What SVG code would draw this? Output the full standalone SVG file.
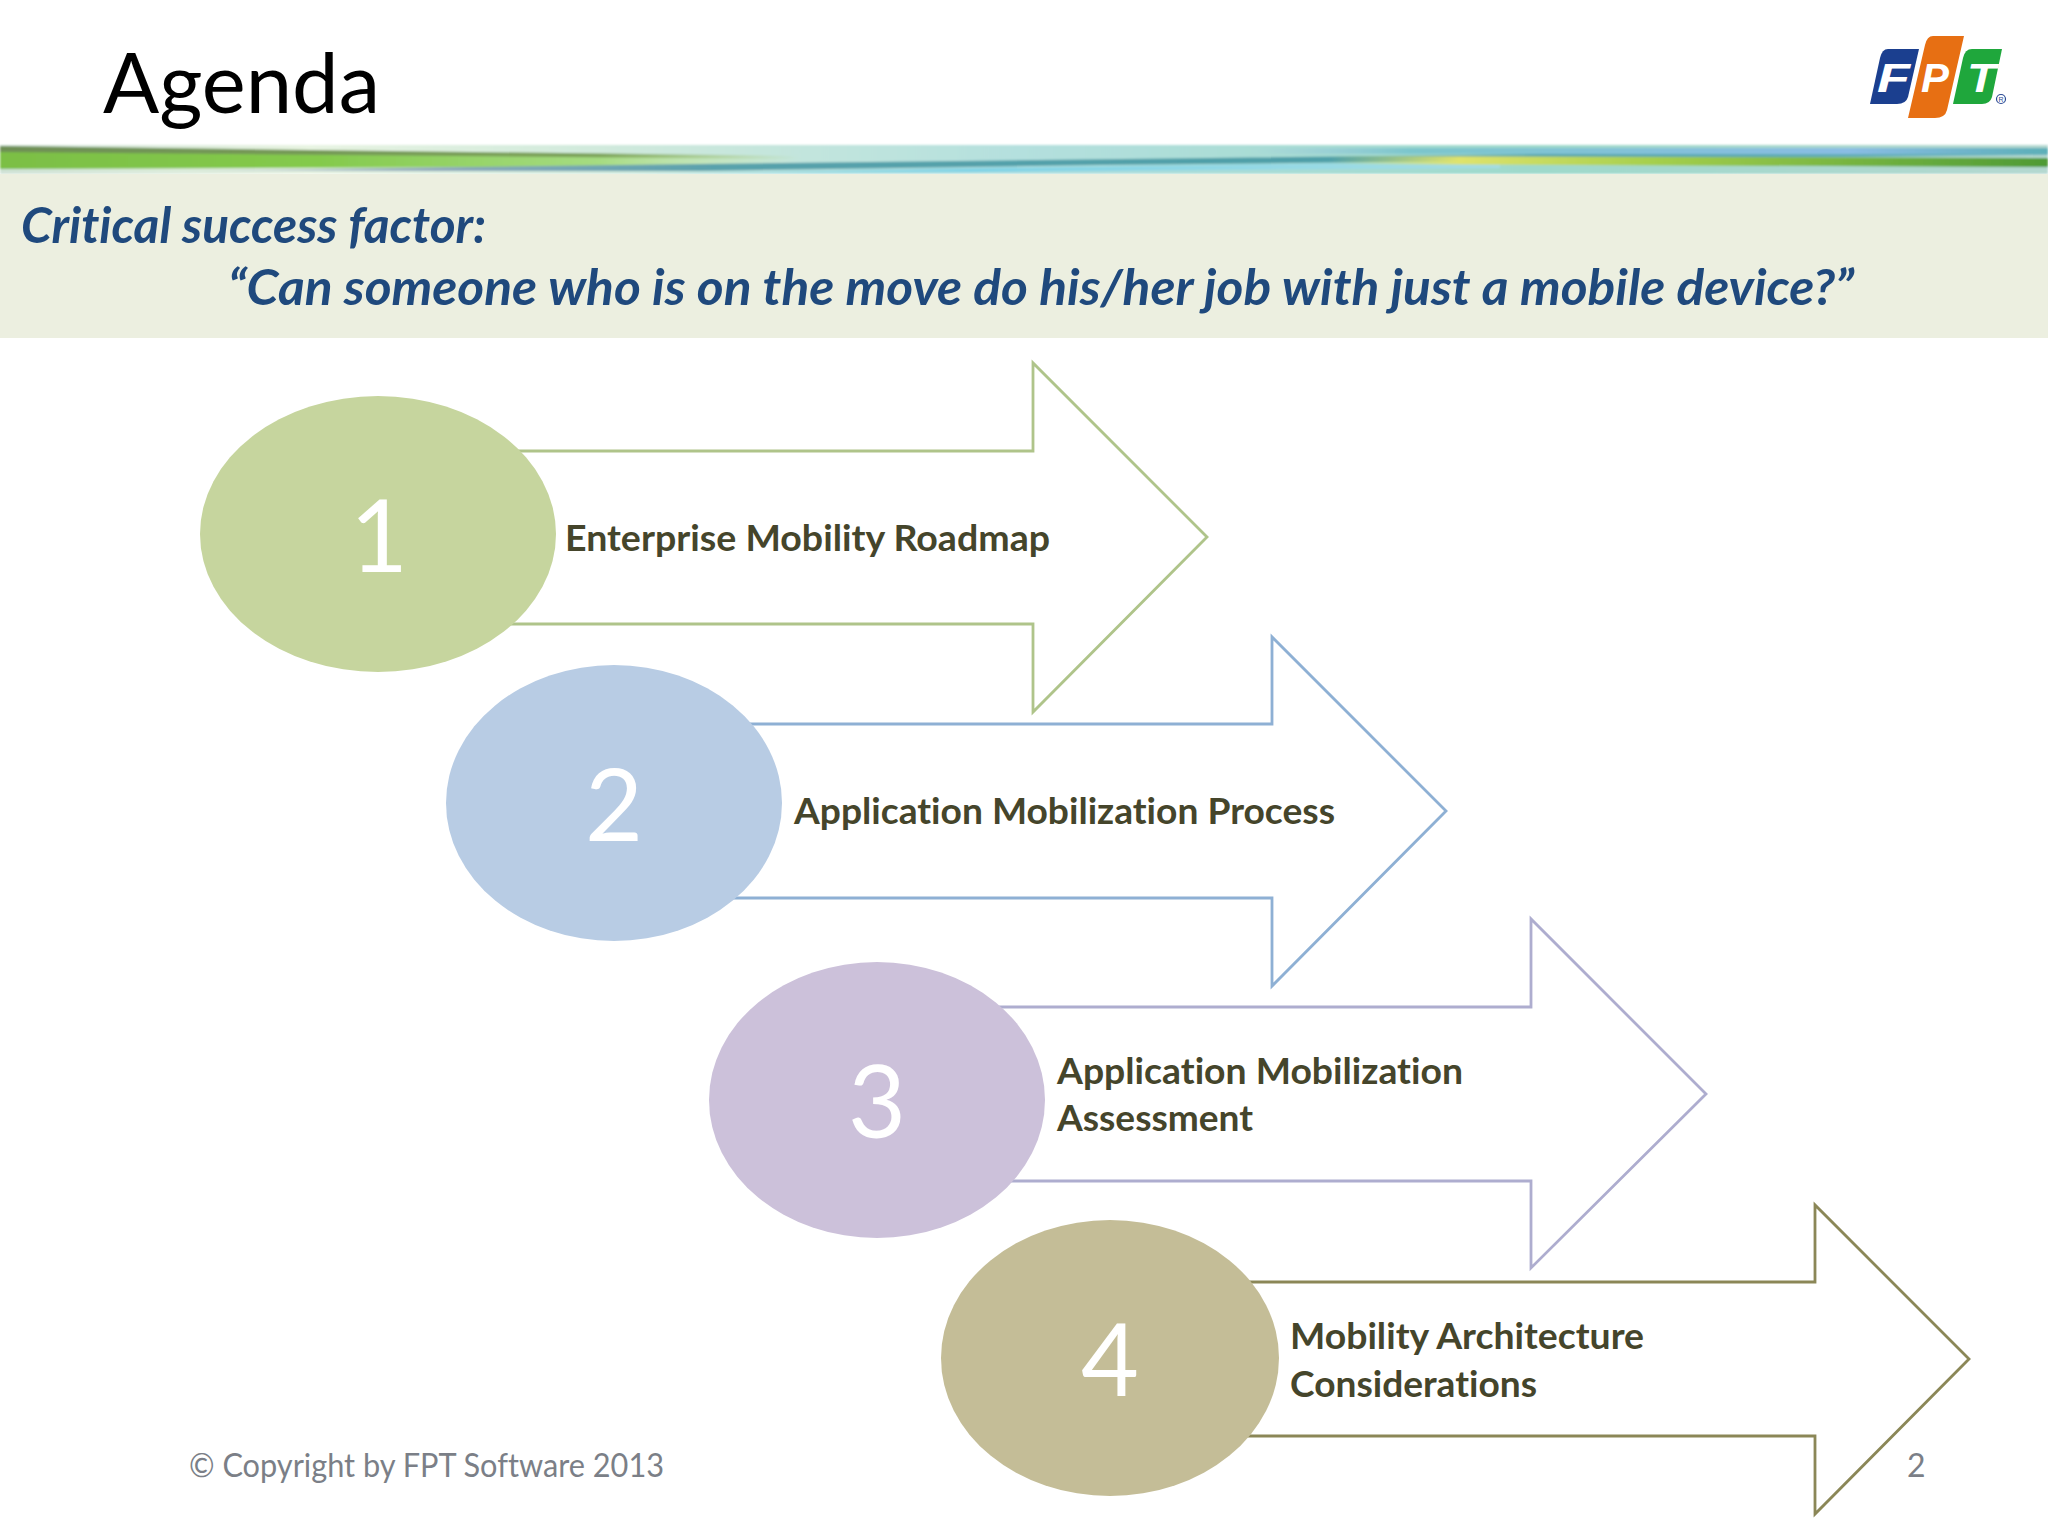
<svg xmlns="http://www.w3.org/2000/svg" width="2048" height="1536" viewBox="0 0 2048 1536">
<style>
text{font-family:"Lato","Carlito","Open Sans",sans-serif;font-variant-ligatures:none}
.lab{font-size:37px;font-weight:700;fill:#45452b}
.num{font-size:100px;font-weight:400;fill:#fff;text-anchor:middle}
.crit{font-size:49px;font-weight:700;font-style:italic;fill:#1f497d}
.foot{font-size:32px;fill:#7b7f87}
.ar{fill:#fff;stroke-width:2.8;stroke-linejoin:miter}
.logo{font-family:"Liberation Sans",sans-serif;font-size:40px;font-weight:700;font-style:italic;fill:#fff}
</style>
<defs>
<linearGradient id="g0" x1="0" x2="1" y1="0" y2="0">
<stop offset="0" stop-color="#cfe2d6"/><stop offset=".15" stop-color="#e8f4e2"/><stop offset=".3" stop-color="#cfe9dc"/><stop offset=".5" stop-color="#b4e0de"/><stop offset=".75" stop-color="#9ed9cb"/><stop offset="1" stop-color="#b4d8d0"/>
</linearGradient>
<linearGradient id="gL" x1="0" x2="1" y1="0" y2="0">
<stop offset="0" stop-color="#7cbf45"/><stop offset=".4" stop-color="#84ca4c"/><stop offset=".75" stop-color="#a6dc82"/><stop offset="1" stop-color="#cce8a8" stop-opacity="0"/>
</linearGradient>
<linearGradient id="gD" x1="0" x2="1" y1="0" y2="0">
<stop offset="0" stop-color="#6e8f55"/><stop offset=".75" stop-color="#7da35a"/><stop offset="1" stop-color="#a9c98a" stop-opacity="0"/>
</linearGradient>
<linearGradient id="gT" x1="0" x2="1" y1="0" y2="0">
<stop offset="0" stop-color="#8aa6b8" stop-opacity="0"/><stop offset=".15" stop-color="#8fa9bb"/><stop offset=".3" stop-color="#58a2ac"/><stop offset=".6" stop-color="#4f9fa8"/><stop offset="1" stop-color="#69b4bc"/>
</linearGradient>
<linearGradient id="gC" x1="0" x2="1" y1="0" y2="0">
<stop offset="0" stop-color="#8ddce6" stop-opacity="0"/><stop offset=".4" stop-color="#80d3e6"/><stop offset="1" stop-color="#a4dde4"/>
</linearGradient>
<linearGradient id="gR" x1="0" x2="1" y1="0" y2="0">
<stop offset="0" stop-color="#dde26a" stop-opacity="0"/><stop offset=".18" stop-color="#dfe36c"/><stop offset=".45" stop-color="#a5cf4d"/><stop offset=".8" stop-color="#6aad3e"/><stop offset="1" stop-color="#4f9a35"/>
</linearGradient>
<linearGradient id="gB" x1="0" x2="1" y1="0" y2="0">
<stop offset="0" stop-color="#9cc4e0" stop-opacity="0"/><stop offset=".2" stop-color="#7cc6cc"/><stop offset=".75" stop-color="#8abde4"/><stop offset="1" stop-color="#5cafb8"/>
</linearGradient>
<filter id="bl" x="-2%" y="-50%" width="104%" height="200%"><feGaussianBlur stdDeviation="1"/></filter>
</defs>
<rect width="2048" height="1536" fill="#fff"/>

<g id="band" filter="url(#bl)">
<rect x="0" y="145" width="2048" height="29" fill="url(#g0)"/>
<polygon points="0,150 800,156 800,166 0,169" fill="url(#gL)"/>
<polygon points="0,146 800,156 800,159 0,152" fill="url(#gD)"/>
<polygon points="150,171 700,164 2048,148 2048,155 1100,165 700,171" fill="url(#gT)"/>
<polygon points="620,173 1500,161 1500,168 620,175" fill="url(#gC)"/>
<polygon points="1330,156 2048,158 2048,167 1330,164" fill="url(#gR)"/>
<rect x="1250" y="148" width="798" height="6" fill="url(#gB)"/>
</g>
<rect id="banner" x="0" y="174" width="2048" height="164" fill="#ecefe0"/>

<g id="title"><text x="103" y="113" font-size="83" fill="#000" textLength="277" lengthAdjust="spacingAndGlyphs">Agenda</text></g>

<g id="logo">
<path d="M1888 49H1919L1908 97Q1906 104 1897 104H1870L1880 58Q1882 49 1888 49Z" fill="#1b3f8f"/>
<path d="M1933 36H1964L1947 110Q1945 118 1935 118H1908L1925 45Q1927 36 1933 36Z" fill="#e76f13"/>
<path d="M1972 49H2002L1992 97Q1990 104 1982 104H1953L1963 58Q1965 49 1972 49Z" fill="#1fa73c"/>
<text class="logo" x="1877" y="92" textLength="33" lengthAdjust="spacingAndGlyphs">F</text>
<text class="logo" x="1921" y="92" textLength="28" lengthAdjust="spacingAndGlyphs">P</text>
<text class="logo" x="1967" y="92" textLength="29" lengthAdjust="spacingAndGlyphs">T</text>
<circle cx="2001" cy="99" r="4.5" fill="none" stroke="#2b4a94" stroke-width="1.2"/>
<text x="2001" y="102" font-size="7" text-anchor="middle" fill="#2b4a94" style="font-family:'Liberation Sans',sans-serif">R</text>
</g>

<g id="critical">
<text class="crit" x="21" y="243" textLength="465" lengthAdjust="spacingAndGlyphs">Critical success factor:</text>
<text class="crit" x="228" y="305" textLength="1626" lengthAdjust="spacingAndGlyphs">“Can someone who is on the move do his/her job with just a mobile device?”</text>
</g>

<g id="connectors">
<path class="ar" stroke="#afc48a" d="M400 451H1033V363L1207 537L1033 712V624H400Z"/>
<path class="ar" stroke="#8eb0d4" d="M600 724H1272V637L1446 811L1272 986V898H600Z"/>
<path class="ar" stroke="#aeadcf" d="M860 1007H1531V919L1706 1094L1531 1268V1181H860Z"/>
<path class="ar" stroke="#8b8757" d="M1100 1282H1815V1205L1969 1359L1815 1514V1436H1100Z"/>
</g>

<g id="node1">
<ellipse cx="378" cy="534" rx="178" ry="138" fill="#c6d59e"/>
<text class="num" x="379" y="572">1</text>
<text class="lab" x="565" y="551" textLength="485" lengthAdjust="spacingAndGlyphs">Enterprise Mobility Roadmap</text>
</g>
<g id="node2">
<ellipse cx="614" cy="803" rx="168" ry="138" fill="#b8cce4"/>
<text class="num" x="614" y="841">2</text>
<text class="lab" x="794" y="824" textLength="541" lengthAdjust="spacingAndGlyphs">Application Mobilization Process</text>
</g>
<g id="node3">
<ellipse cx="877" cy="1100" rx="168" ry="138" fill="#ccc1da"/>
<text class="num" x="877" y="1138">3</text>
<text class="lab" x="1057" y="1084" textLength="406" lengthAdjust="spacingAndGlyphs">Application Mobilization</text>
<text class="lab" x="1057" y="1131" textLength="196" lengthAdjust="spacingAndGlyphs">Assessment</text>
</g>
<g id="node4">
<ellipse cx="1110" cy="1358" rx="169" ry="138" fill="#c4bd97"/>
<text class="num" x="1110" y="1396">4</text>
<text class="lab" x="1290" y="1349" textLength="354" lengthAdjust="spacingAndGlyphs">Mobility Architecture</text>
<text class="lab" x="1290" y="1397" textLength="247" lengthAdjust="spacingAndGlyphs">Considerations</text>
</g>

<g id="footer">
<text class="foot" x="189" y="1477" textLength="475" lengthAdjust="spacingAndGlyphs">© Copyright by FPT Software 2013</text>
<text class="foot" x="1907" y="1477">2</text>
</g>
</svg>
